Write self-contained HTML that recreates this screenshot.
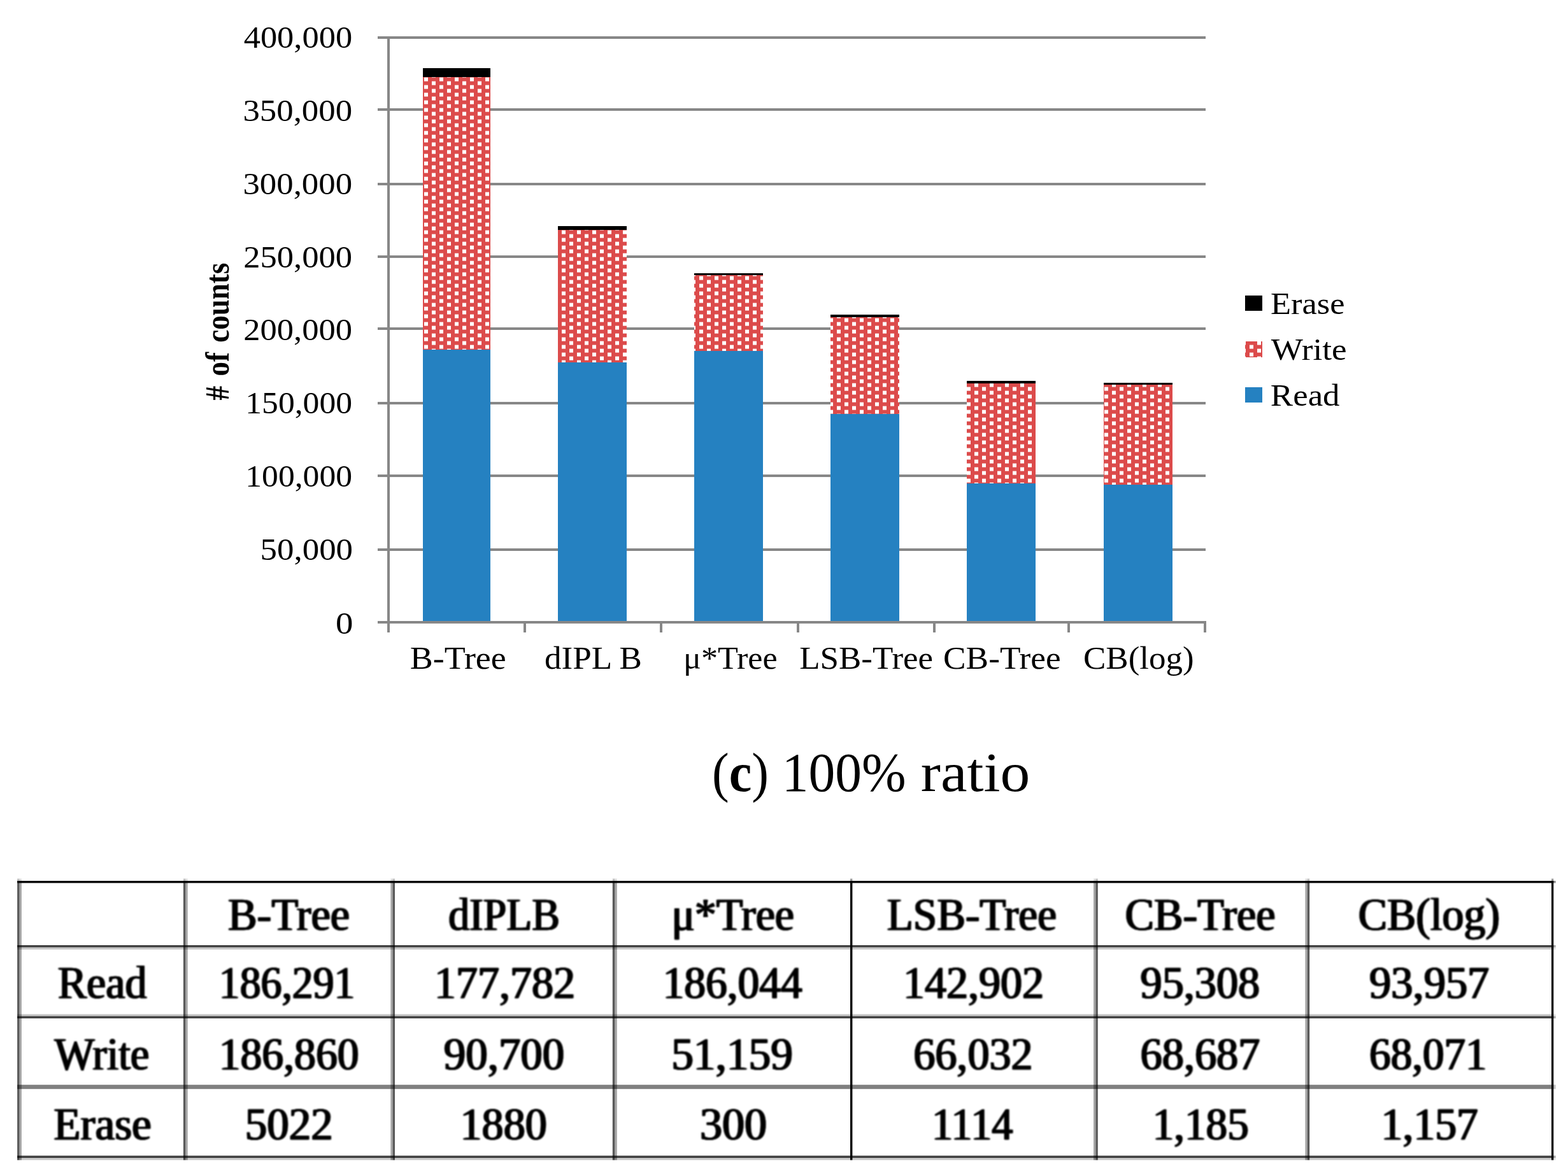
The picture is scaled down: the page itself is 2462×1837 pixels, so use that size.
<!DOCTYPE html>
<html lang="en"><head><meta charset="utf-8"><title>(c) 100% ratio</title>
<style>
html,body{margin:0;padding:0;background:#fff;}
body{width:2462px;height:1837px;overflow:hidden;font-family:"Liberation Serif", serif;}
svg{display:block;}
svg text{white-space:pre;}
</style></head><body>
<svg width="2462" height="1837" viewBox="0 0 2462 1837" font-family='"Liberation Serif", serif' fill="#000">
<defs>
<pattern id="pw" width="24" height="12" patternUnits="userSpaceOnUse">
<rect width="24" height="12" fill="#DC4B4B"/>
<rect x="18" y="1.6" width="6" height="6" fill="#fff"/>
<rect x="6" y="7.6" width="6" height="4.4" fill="#fff"/>
<rect x="6" y="0" width="6" height="1.6" fill="#fff"/>
</pattern>
<filter id="soft" x="0" y="0" width="100%" height="100%" filterUnits="userSpaceOnUse"><feOffset in="SourceGraphic" dx="-1" dy="0" result="l"/><feOffset in="SourceGraphic" dx="1" dy="0" result="r"/><feMerge result="m"><feMergeNode in="l"/><feMergeNode in="SourceGraphic"/><feMergeNode in="r"/></feMerge><feGaussianBlur in="m" stdDeviation="0.8"/></filter>
</defs>
<rect width="2462" height="1837" fill="#fff"/>
<g id="plot" shape-rendering="crispEdges">
<rect x="593" y="57" width="1300" height="4" fill="#878787"/>
<rect x="593" y="170" width="1300" height="4" fill="#878787"/>
<rect x="593" y="287" width="1300" height="4" fill="#878787"/>
<rect x="593" y="401" width="1300" height="4" fill="#878787"/>
<rect x="593" y="514" width="1300" height="4" fill="#878787"/>
<rect x="593" y="631" width="1300" height="4" fill="#878787"/>
<rect x="593" y="745" width="1300" height="4" fill="#878787"/>
<rect x="593" y="861" width="1300" height="4" fill="#878787"/>
<rect x="593" y="975" width="1301" height="4" fill="#878787"/>
<rect x="608" y="59" width="4" height="934" fill="#878787"/>
<rect x="822" y="977" width="4" height="16" fill="#878787"/>
<rect x="1036" y="977" width="4" height="16" fill="#878787"/>
<rect x="1250.5" y="977" width="4" height="16" fill="#878787"/>
<rect x="1464.5" y="977" width="4" height="16" fill="#878787"/>
<rect x="1676" y="977" width="4" height="16" fill="#878787"/>
<rect x="1890" y="977" width="4" height="16" fill="#878787"/>
<rect x="664" y="549.1" width="106" height="425.9" fill="#2581C1"/>
<rect x="664" y="120.8" width="106" height="428.3" fill="url(#pw)"/>
<rect x="664" y="107" width="106" height="13.8" fill="#000"/>
<rect x="876" y="569" width="108" height="406.0" fill="#2581C1"/>
<rect x="876" y="360.9" width="108" height="208.1" fill="url(#pw)"/>
<rect x="876" y="354.9" width="108" height="6.0" fill="#000"/>
<rect x="1090" y="550.7" width="108" height="424.3" fill="#2581C1"/>
<rect x="1090" y="432.1" width="108" height="118.6" fill="url(#pw)"/>
<rect x="1090" y="428.8" width="108" height="3.3" fill="#000"/>
<rect x="1304" y="650" width="108" height="325.0" fill="#2581C1"/>
<rect x="1304" y="498" width="108" height="152.0" fill="url(#pw)"/>
<rect x="1304" y="493.8" width="108" height="4.2" fill="#000"/>
<rect x="1518" y="758.8" width="108" height="216.2" fill="#2581C1"/>
<rect x="1518" y="602" width="108" height="156.8" fill="url(#pw)"/>
<rect x="1518" y="598" width="108" height="4.0" fill="#000"/>
<rect x="1733" y="761" width="108" height="214.0" fill="#2581C1"/>
<rect x="1733" y="604.1" width="108" height="156.9" fill="url(#pw)"/>
<rect x="1733" y="600.8" width="108" height="3.3" fill="#000"/>
<rect x="1955" y="464" width="27" height="24" fill="#000"/>
<rect x="1955" y="535.5" width="27" height="25.5" fill="url(#pw)"/>
<rect x="1955" y="608" width="27" height="24" fill="#2581C1"/>
</g>
<g id="labels">
<text transform="translate(382.68,75.20) scale(1.0910,1)" font-size="48.07" font-weight="normal">400,000</text>
<text transform="translate(381.42,190.30) scale(1.0991,1)" font-size="48.07" font-weight="normal">350,000</text>
<text transform="translate(381.42,305.00) scale(1.0991,1)" font-size="48.07" font-weight="normal">300,000</text>
<text transform="translate(382.26,419.50) scale(1.0937,1)" font-size="48.07" font-weight="normal">250,000</text>
<text transform="translate(382.26,533.90) scale(1.0937,1)" font-size="48.07" font-weight="normal">200,000</text>
<text transform="translate(385.27,649.30) scale(1.0743,1)" font-size="48.07" font-weight="normal">150,000</text>
<text transform="translate(385.27,764.40) scale(1.0743,1)" font-size="48.07" font-weight="normal">100,000</text>
<text transform="translate(408.62,879.30) scale(1.1000,1)" font-size="48.07" font-weight="normal">50,000</text>
<text transform="translate(526.99,994.50) scale(1.1411,1)" font-size="48.07" font-weight="normal">0</text>
<text transform="translate(643.86,1049.90) scale(1.0865,1)" font-size="49.68" font-weight="normal">B-Tree</text>
<text transform="translate(855.04,1049.90) scale(1.0682,1)" font-size="49.68" font-weight="normal">dIPL B</text>
<text transform="translate(1072.93,1049.90) scale(1.0498,1)" font-size="49.68" font-weight="normal">μ*Tree</text>
<text transform="translate(1255.17,1049.90) scale(1.0661,1)" font-size="49.68" font-weight="normal">LSB-Tree</text>
<text transform="translate(1481.03,1049.90) scale(1.0732,1)" font-size="49.68" font-weight="normal">CB-Tree</text>
<text transform="translate(1700.94,1049.90) scale(1.0678,1)" font-size="49.68" font-weight="normal">CB(log)</text>
<text transform="translate(1994.88,493.20) scale(1.0775,1)" font-size="48.76" font-weight="normal">Erase</text>
<text transform="translate(1995.70,565.40) scale(1.0901,1)" font-size="48.76" font-weight="normal">Write</text>
<text transform="translate(1994.87,637.40) scale(1.0852,1)" font-size="48.76" font-weight="normal">Read</text>
<text transform="translate(358.70,628.40) rotate(-90) scale(1,1.1643)" font-size="45.05" font-weight="bold" word-spacing="4.0"># of counts</text>
</g>
<g id="caption">
<text y="1241.60" font-size="86.33"><tspan x="1118.00" textLength="88.90" lengthAdjust="spacingAndGlyphs"><tspan font-weight="normal">(</tspan><tspan font-weight="bold">c</tspan><tspan font-weight="normal">)</tspan></tspan><tspan> </tspan><tspan x="1227.77" textLength="194.94" lengthAdjust="spacingAndGlyphs">100%</tspan><tspan> </tspan><tspan x="1445.84" textLength="171.49" lengthAdjust="spacingAndGlyphs">ratio</tspan></text>
</g>
<g id="table">
<g id="tlines">
<rect x="27.1" y="1383" width="2412.2" height="3.4" fill="#000" fill-opacity="1"/>
<rect x="27.1" y="1484" width="2412.2" height="3.4" fill="#000" fill-opacity="0.75"/>
<rect x="27.1" y="1487.4" width="2412.2" height="3.4" fill="#000" fill-opacity="0.22"/>
<rect x="27.1" y="1592.3" width="2412.2" height="3.1" fill="#000" fill-opacity="0.22"/>
<rect x="27.1" y="1595.4" width="2412.2" height="3.5" fill="#000" fill-opacity="0.75"/>
<rect x="27.1" y="1703.2" width="2412.2" height="6.6" fill="#000" fill-opacity="0.5"/>
<rect x="27.1" y="1814.5" width="2412.2" height="3.5" fill="#000" fill-opacity="0.75"/>
<rect x="27.1" y="1818" width="2412.2" height="3.4" fill="#000" fill-opacity="0.22"/>
<rect x="2439.3" y="1383" width="3.4" height="3.4" fill="#000" fill-opacity="0.45"/>
<rect x="2439.3" y="1484" width="3.4" height="3.4" fill="#000" fill-opacity="0.34"/>
<rect x="2439.3" y="1487.4" width="3.4" height="3.4" fill="#000" fill-opacity="0.10"/>
<rect x="2439.3" y="1592.3" width="3.4" height="3.1" fill="#000" fill-opacity="0.10"/>
<rect x="2439.3" y="1595.4" width="3.4" height="3.5" fill="#000" fill-opacity="0.34"/>
<rect x="2439.3" y="1703.2" width="3.4" height="6.6" fill="#000" fill-opacity="0.23"/>
<rect x="2439.3" y="1814.5" width="3.4" height="3.5" fill="#000" fill-opacity="0.34"/>
<rect x="2439.3" y="1818" width="3.4" height="3.4" fill="#000" fill-opacity="0.10"/>
<rect x="27.1" y="1383" width="3.4" height="438.4" fill="#000" fill-opacity="0.65"/>
<rect x="27.1" y="1379.6" width="3.4" height="3.4" fill="#000" fill-opacity="0.26"/>
<rect x="30.5" y="1383" width="3.4" height="438.4" fill="#000" fill-opacity="0.35"/>
<rect x="30.5" y="1379.6" width="3.4" height="3.4" fill="#000" fill-opacity="0.14"/>
<rect x="287.9" y="1383" width="3.4" height="438.4" fill="#000" fill-opacity="0.65"/>
<rect x="287.9" y="1379.6" width="3.4" height="3.4" fill="#000" fill-opacity="0.26"/>
<rect x="291.3" y="1383" width="3.4" height="438.4" fill="#000" fill-opacity="0.35"/>
<rect x="291.3" y="1379.6" width="3.4" height="3.4" fill="#000" fill-opacity="0.14"/>
<rect x="613.3" y="1383" width="3.3" height="438.4" fill="#000" fill-opacity="0.35"/>
<rect x="613.3" y="1379.6" width="3.3" height="3.4" fill="#000" fill-opacity="0.14"/>
<rect x="616.6" y="1383" width="3.4" height="438.4" fill="#000" fill-opacity="0.65"/>
<rect x="616.6" y="1379.6" width="3.4" height="3.4" fill="#000" fill-opacity="0.26"/>
<rect x="961.8" y="1383" width="3.6" height="438.4" fill="#000" fill-opacity="0.65"/>
<rect x="961.8" y="1379.6" width="3.6" height="3.4" fill="#000" fill-opacity="0.26"/>
<rect x="965.4" y="1383" width="3.4" height="438.4" fill="#000" fill-opacity="0.35"/>
<rect x="965.4" y="1379.6" width="3.4" height="3.4" fill="#000" fill-opacity="0.14"/>
<rect x="1335" y="1383" width="3.4" height="438.4" fill="#000" fill-opacity="1"/>
<rect x="1335" y="1379.6" width="3.4" height="3.4" fill="#000" fill-opacity="0.40"/>
<rect x="1717" y="1383" width="3.4" height="438.4" fill="#000" fill-opacity="0.35"/>
<rect x="1717" y="1379.6" width="3.4" height="3.4" fill="#000" fill-opacity="0.14"/>
<rect x="1720.4" y="1383" width="3.4" height="438.4" fill="#000" fill-opacity="0.65"/>
<rect x="1720.4" y="1379.6" width="3.4" height="3.4" fill="#000" fill-opacity="0.26"/>
<rect x="2049.4" y="1383" width="3.4" height="438.4" fill="#000" fill-opacity="0.35"/>
<rect x="2049.4" y="1379.6" width="3.4" height="3.4" fill="#000" fill-opacity="0.14"/>
<rect x="2052.8" y="1383" width="3.4" height="438.4" fill="#000" fill-opacity="0.65"/>
<rect x="2052.8" y="1379.6" width="3.4" height="3.4" fill="#000" fill-opacity="0.26"/>
<rect x="2436" y="1383" width="3.3" height="438.4" fill="#000" fill-opacity="1"/>
<rect x="2436" y="1379.6" width="3.3" height="3.4" fill="#000" fill-opacity="0.40"/>
</g>
<g id="ttext" filter="url(#soft)">
<text transform="translate(358.03,1459.60) scale(0.9627,1)" font-size="71.01" font-weight="normal" stroke="#000" stroke-width="0.41" stroke-linejoin="round">B-Tree</text>
<text transform="translate(704.15,1459.60) scale(0.9230,1)" font-size="71.01" font-weight="normal" stroke="#000" stroke-width="0.42" stroke-linejoin="round">dIPLB</text>
<text transform="translate(1054.38,1459.60) scale(0.9581,1)" font-size="71.01" font-weight="normal" stroke="#000" stroke-width="0.41" stroke-linejoin="round">μ*Tree</text>
<text transform="translate(1392.75,1459.60) scale(0.9459,1)" font-size="71.01" font-weight="normal" stroke="#000" stroke-width="0.41" stroke-linejoin="round">LSB-Tree</text>
<text transform="translate(1766.57,1459.60) scale(0.9597,1)" font-size="71.01" font-weight="normal" stroke="#000" stroke-width="0.41" stroke-linejoin="round">CB-Tree</text>
<text transform="translate(2132.78,1459.60) scale(0.9549,1)" font-size="71.01" font-weight="normal" stroke="#000" stroke-width="0.41" stroke-linejoin="round">CB(log)</text>
<text transform="translate(90.64,1567.40) scale(0.9593,1)" font-size="71.01" font-weight="normal" stroke="#000" stroke-width="0.41" stroke-linejoin="round">Read</text>
<text transform="translate(343.87,1567.40) scale(0.9252,1)" font-size="71.01" font-weight="normal" stroke="#000" stroke-width="0.42" stroke-linejoin="round">186,291</text>
<text transform="translate(682.09,1567.40) scale(0.9576,1)" font-size="71.01" font-weight="normal" stroke="#000" stroke-width="0.41" stroke-linejoin="round">177,782</text>
<text transform="translate(1040.64,1567.40) scale(0.9490,1)" font-size="71.01" font-weight="normal" stroke="#000" stroke-width="0.41" stroke-linejoin="round">186,044</text>
<text transform="translate(1417.99,1567.40) scale(0.9576,1)" font-size="71.01" font-weight="normal" stroke="#000" stroke-width="0.41" stroke-linejoin="round">142,902</text>
<text transform="translate(1790.57,1567.40) scale(0.9605,1)" font-size="71.01" font-weight="normal" stroke="#000" stroke-width="0.41" stroke-linejoin="round">95,308</text>
<text transform="translate(2150.06,1567.40) scale(0.9643,1)" font-size="71.01" font-weight="normal" stroke="#000" stroke-width="0.41" stroke-linejoin="round">93,957</text>
<text transform="translate(85.40,1678.60) scale(0.9381,1)" font-size="71.01" font-weight="normal" stroke="#000" stroke-width="0.41" stroke-linejoin="round">Write</text>
<text transform="translate(343.71,1678.60) scale(0.9529,1)" font-size="71.01" font-weight="normal" stroke="#000" stroke-width="0.41" stroke-linejoin="round">186,860</text>
<text transform="translate(696.85,1678.60) scale(0.9694,1)" font-size="71.01" font-weight="normal" stroke="#000" stroke-width="0.41" stroke-linejoin="round">90,700</text>
<text transform="translate(1054.15,1678.60) scale(0.9767,1)" font-size="71.01" font-weight="normal" stroke="#000" stroke-width="0.40" stroke-linejoin="round">51,159</text>
<text transform="translate(1434.17,1678.60) scale(0.9603,1)" font-size="71.01" font-weight="normal" stroke="#000" stroke-width="0.41" stroke-linejoin="round">66,032</text>
<text transform="translate(1790.56,1678.60) scale(0.9622,1)" font-size="71.01" font-weight="normal" stroke="#000" stroke-width="0.41" stroke-linejoin="round">68,687</text>
<text transform="translate(2150.10,1678.60) scale(0.9450,1)" font-size="71.01" font-weight="normal" stroke="#000" stroke-width="0.41" stroke-linejoin="round">68,071</text>
<text transform="translate(84.32,1788.60) scale(0.9734,1)" font-size="71.01" font-weight="normal" stroke="#000" stroke-width="0.41" stroke-linejoin="round">Erase</text>
<text transform="translate(384.76,1788.60) scale(0.9722,1)" font-size="71.01" font-weight="normal" stroke="#000" stroke-width="0.41" stroke-linejoin="round">5022</text>
<text transform="translate(722.58,1788.60) scale(0.9586,1)" font-size="71.01" font-weight="normal" stroke="#000" stroke-width="0.41" stroke-linejoin="round">1880</text>
<text transform="translate(1098.91,1788.60) scale(0.9884,1)" font-size="71.01" font-weight="normal" stroke="#000" stroke-width="0.40" stroke-linejoin="round">300</text>
<text transform="translate(1462.92,1788.60) scale(0.9332,1)" font-size="71.01" font-weight="normal" stroke="#000" stroke-width="0.41" stroke-linejoin="round">1114</text>
<text transform="translate(1809.76,1788.60) scale(0.9447,1)" font-size="71.01" font-weight="normal" stroke="#000" stroke-width="0.41" stroke-linejoin="round">1,185</text>
<text transform="translate(2168.61,1788.60) scale(0.9535,1)" font-size="71.01" font-weight="normal" stroke="#000" stroke-width="0.41" stroke-linejoin="round">1,157</text>
</g>
</g>
</svg>
</body></html>
